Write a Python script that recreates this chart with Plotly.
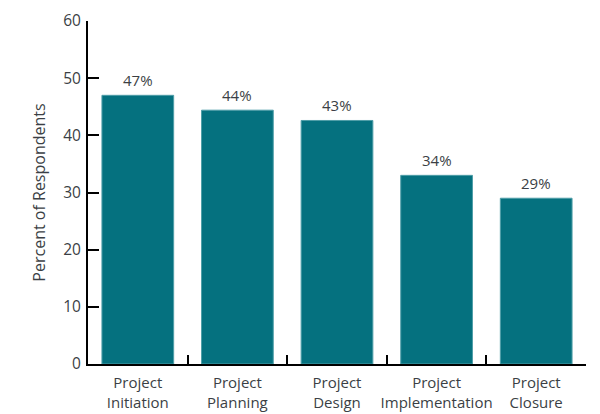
import plotly.graph_objects as go

categories = ["Project<br>Initiation", "Project<br>Planning", "Project<br>Design",
              "Project<br>Implementation", "Project<br>Closure"]
values = [47.0, 44.4, 42.6, 33.0, 29.0]
labels = ["47%", "44%", "43%", "34%", "29%"]
y_ticks = [0, 10, 20, 30, 40, 50, 60]

BAR = "#05717F"
TEXT = "#3b3f45"
FONT = "Open Sans"

fig = go.Figure()
fig.add_trace(go.Bar(
    x=categories, y=values,
    marker=dict(color=BAR, line=dict(color="#4f9ea8", width=1)),
    hoverinfo="skip",
))

for c, v, t in zip(categories, values, labels):
    fig.add_annotation(x=c, y=v, text=t, showarrow=False, yanchor="bottom",
                       yshift=3, font=dict(family=FONT, size=15, color=TEXT))

fig.update_layout(
    width=600, height=414,
    margin=dict(l=80, r=22, t=13, b=58, autoexpand=False),
    paper_bgcolor="white", plot_bgcolor="white",
    bargap=0.28,
    showlegend=False,
    font=dict(family=FONT, size=15, color=TEXT),
)
fig.update_xaxes(
    showline=True, linecolor="black", linewidth=2,
    ticks="inside", tickson="boundaries", ticklen=9, tickwidth=1.5, tickcolor="black",
    showgrid=False, tickangle=0, automargin=False, ticklabelstandoff=4,
    tickfont=dict(family=FONT, size=15, color=TEXT),
)
fig.update_yaxes(
    range=[0, 60], tickvals=y_ticks,
    showline=True, linecolor="black", linewidth=2,
    ticks="inside", ticklen=11, tickwidth=1.5, tickcolor="black",
    showgrid=False, zeroline=False, automargin=False, ticklabelstandoff=2,
    ticklabeloverflow="allow",
    tickfont=dict(family=FONT, size=15.5, color=TEXT),
    title=dict(text="Percent of Respondents", font=dict(family=FONT, size=16, color=TEXT), standoff=14),
)

fig.write_html("out.html")
